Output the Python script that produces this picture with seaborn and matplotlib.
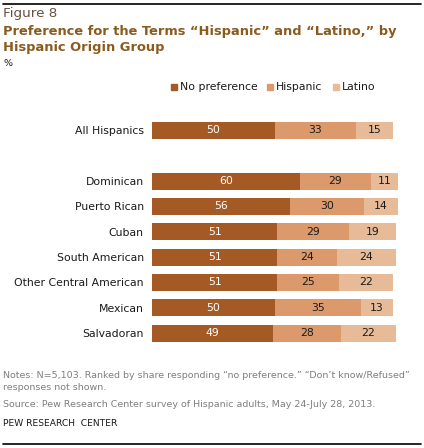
import matplotlib
matplotlib.use("Agg")
import matplotlib.pyplot as plt
import seaborn as sns
import numpy as np
import pandas as pd

categories = ["All Hispanics", "", "Dominican", "Puerto Rican", "Cuban", "South American",
              "Other Central American", "Mexican", "Salvadoran"]
no_pref = [50, 0, 60, 56, 51, 51, 51, 50, 49]
hispanic = [33, 0, 29, 30, 29, 24, 25, 35, 28]
latino = [15, 0, 11, 14, 19, 24, 22, 13, 22]
series = ["No preference", "Hispanic", "Latino"]
colors = ["#A55A26", "#DC9A6C", "#E8BB98"]

sns.set_theme(style="white")
plt.rcParams['font.family'] = ['DejaVu Sans']

df = pd.DataFrame({"cat": categories, "np": no_pref, "h": hispanic, "l": latino})
df["c1"] = df["np"]
df["c2"] = df["np"] + df["h"]
df["c3"] = df["np"] + df["h"] + df["l"]
order = [c if c else " " for c in categories]
df["cat"] = order

fig = plt.figure(figsize=(4.24, 4.48), dpi=100)
ax = fig.add_axes([152/424, 1-345.7/448, 246/424, (345.7-117.8)/448])

for col, c in zip(["c3", "c2", "c1"], colors[::-1]):
    sns.barplot(data=df, x=col, y="cat", order=order, orient="h", color=c,
                width=0.67, ax=ax, saturation=1, linewidth=0)

ax.set_xlim(0, 100)
ax.set_ylim(8.5, -0.5)
ax.set_xlabel("")
ax.set_ylabel("")
ax.set_xticks([])
ax.tick_params(axis="y", length=0, pad=6, labelsize=7.8, labelcolor="#1a1a1a")
for s in ax.spines.values():
    s.set_visible(False)

for i, row in df.iterrows():
    if row["np"] == 0:
        continue
    ax.text(row["np"]/2, i, f"{row['np']}", ha="center", va="center", color="white", fontsize=7.8)
    ax.text(row["np"] + row["h"]/2, i, f"{row['h']}", ha="center", va="center", color="#1a1a1a", fontsize=7.8)
    ax.text(row["c2"] + row["l"]/2, i, f"{row['l']}", ha="center", va="center", color="#1a1a1a", fontsize=7.8)

# legend
leg_x = [171, 267, 333]
for x, lab, c in zip(leg_x, series, colors):
    fig.patches.append(plt.Rectangle((x/424, 1-90.5/448), 6/424, 6/448, color=c,
                                     transform=fig.transFigure, figure=fig))
    fig.text((x+9)/424, 1-87.5/448, lab, fontsize=7.8, va="center", ha="left", color="#1a1a1a")

# title and texts
fig.add_artist(plt.Line2D([3/424, 421/424], [1-4.5/448, 1-4.5/448], color="black", lw=1.2, transform=fig.transFigure))
fig.add_artist(plt.Line2D([3/424, 421/424], [1-444/448, 1-444/448], color="black", lw=1.2, transform=fig.transFigure))
fig.text(3/424, 1-13/448, "Figure 8", fontsize=9.7, color="#6b5040", va="center")
fig.text(3/424, 1-32/448, "Preference for the Terms \u201cHispanic\u201d and \u201cLatino,\u201d by",
         fontsize=9.4, fontweight="bold", color="#8B5A1E", va="center")
fig.text(3/424, 1-48/448, "Hispanic Origin Group", fontsize=9.4, fontweight="bold", color="#8B5A1E", va="center")
fig.text(3/424, 1-63/448, "%", fontsize=6.8, color="#1a1a1a", va="center")

fs = 6.8
fig.text(3/424, 1-375/448, "Notes: N=5,103. Ranked by share responding \u201cno preference.\u201d \u201cDon\u2019t know/Refused\u201d",
         fontsize=fs, color="#7f7f7f", va="center")
fig.text(3/424, 1-387/448, "responses not shown.", fontsize=fs, color="#7f7f7f", va="center")
fig.text(3/424, 1-404/448, "Source: Pew Research Center survey of Hispanic adults, May 24-July 28, 2013.",
         fontsize=fs, color="#7f7f7f", va="center")
fig.text(3/424, 1-423/448, "PEW RESEARCH  CENTER", fontsize=6.6, color="#1a1a1a", va="center")

fig.savefig("out.png", dpi=100)
